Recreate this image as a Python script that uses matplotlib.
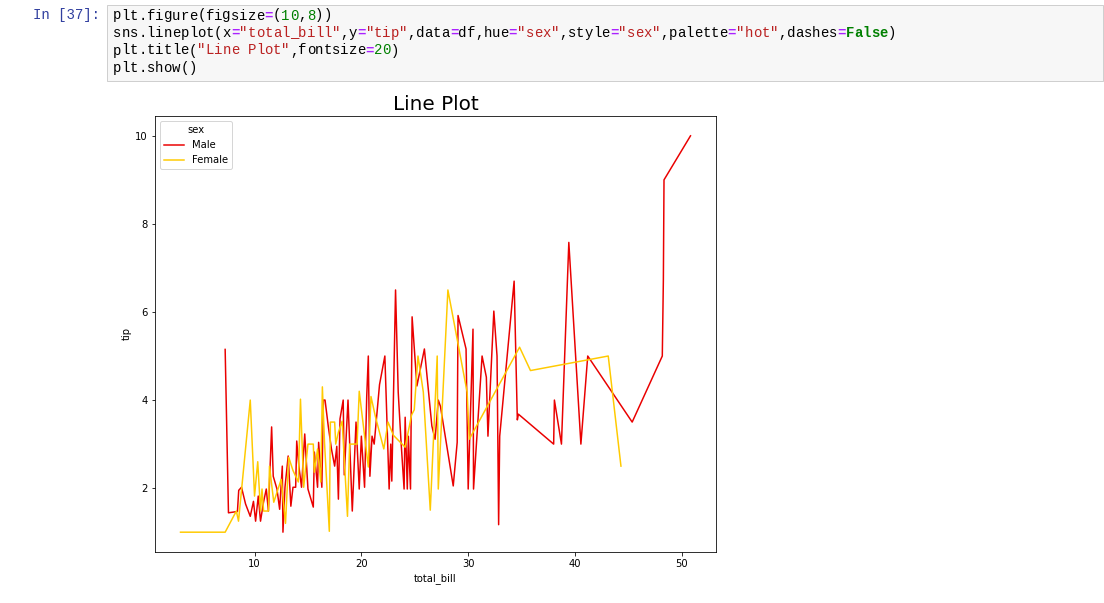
import matplotlib
matplotlib.use("Agg")
import matplotlib.pyplot as plt
from matplotlib.patches import Rectangle

# ---------------- data ----------------
male_bill = [7.25, 7.56, 8.40, 8.52, 8.78, 9.16, 9.60, 9.90, 10.10, 10.35, 10.56,
             10.84, 11.10, 11.30, 11.60, 11.75, 12.10, 12.35, 12.60, 12.66, 12.85,
             13.15, 13.40, 13.60, 13.85, 13.95, 14.15, 14.40, 14.70, 15.00, 15.50,
             15.60, 15.90, 16.00, 16.30, 16.45, 16.60, 16.90, 17.20, 17.50, 17.70,
             17.85, 18.00, 18.30, 18.40, 18.75, 19.15, 19.50, 19.80, 20.00, 20.30,
             20.50, 20.65, 20.80, 21.00, 21.20, 21.70, 22.20, 22.60, 22.75, 22.85,
             23.20, 23.45, 23.70, 24.00, 24.10, 24.30, 24.40, 24.60, 24.75, 25.20,
             25.90, 26.60, 26.90, 27.20, 27.40, 28.60, 28.97, 29.05, 29.80, 30.00,
             30.45, 30.50, 31.30, 31.70, 31.85, 32.40, 32.70, 32.85, 32.95, 34.30,
             34.60, 34.70, 38.00, 38.07, 38.73, 39.42, 40.55, 41.19, 45.35, 48.17,
             48.27, 48.33, 50.81]
male_tip = [5.15, 1.44, 1.47, 1.95, 2.02, 1.64, 1.36, 1.70, 1.25, 1.82, 1.25,
            1.68, 1.98, 1.48, 3.39, 2.27, 1.98, 1.52, 2.50, 1.00, 2.02,
            2.73, 1.59, 2.02, 2.02, 3.07, 2.50, 2.02, 3.23, 1.98, 1.57,
            2.82, 2.02, 3.04, 2.02, 4.00, 4.00, 3.41, 2.89, 2.50, 2.95,
            1.75, 3.57, 4.00, 2.30, 4.00, 1.48, 3.50, 1.98, 3.18, 2.02,
            4.07, 5.00, 2.27, 3.18, 3.00, 4.35, 5.00, 1.98, 3.00, 2.16,
            6.50, 4.18, 3.11, 1.98, 3.61, 1.98, 3.18, 1.98, 5.89, 4.32,
            5.16, 3.41, 3.11, 4.00, 3.86, 2.05, 3.04, 5.92, 5.16, 1.98,
            5.61, 1.98, 5.00, 4.52, 3.18, 6.02, 5.00, 1.17, 3.18, 6.70,
            3.55, 3.68, 3.00, 4.00, 3.00, 7.58, 3.00, 5.00, 3.50, 5.00,
            6.73, 9.00, 10.00]

female_bill = [3.07, 5.75, 7.25, 8.30, 8.50, 9.60, 10.00, 10.30, 10.56, 10.70,
               10.85, 11.30, 11.40, 11.80, 12.20, 12.50, 12.90, 13.20, 13.60,
               14.10, 14.30, 14.60, 15.00, 15.50, 15.60, 15.90, 16.20, 16.35,
               16.55, 17.00, 17.10, 17.50, 17.60, 17.85, 18.20, 18.70, 18.90,
               19.60, 19.80, 20.65, 20.90, 21.30, 22.10, 22.50, 23.00, 24.10,
               24.70, 24.95, 25.30, 25.80, 26.45, 27.10, 27.20, 28.10, 29.90,
               30.10, 34.81, 35.83, 43.11, 44.30]
female_tip = [1.00, 1.00, 1.00, 1.48, 1.25, 4.00, 1.82, 2.60, 1.48, 1.98,
              1.48, 1.48, 2.50, 1.68, 1.98, 2.20, 1.20, 2.70, 2.40,
              2.14, 4.02, 2.02, 3.00, 3.00, 2.36, 2.89, 2.14, 4.30,
              3.04, 1.02, 3.50, 3.50, 3.00, 3.27, 3.52, 1.36, 3.00,
              3.00, 4.20, 2.48, 4.08, 3.64, 2.89, 3.50, 3.20, 2.93,
              3.66, 3.78, 5.00, 4.18, 1.50, 5.00, 1.98, 6.50, 4.18,
              3.11, 5.20, 4.67, 5.00, 2.50]

series_labels = ["Male", "Female"]

code_lines = [
    [("plt.figure(figsize", "k"), ("=", "op"), ("(", "k"), ("10", "num"), (",", "k"),
     ("8", "num"), ("))", "k")],
    [("sns.lineplot(x", "k"), ("=", "op"), ('"total_bill"', "str"), (",y", "k"), ("=", "op"),
     ('"tip"', "str"), (",data", "k"), ("=", "op"), ("df,hue", "k"), ("=", "op"),
     ('"sex"', "str"), (",style", "k"), ("=", "op"), ('"sex"', "str"), (",palette", "k"),
     ("=", "op"), ('"hot"', "str"), (",dashes", "k"), ("=", "op"), ("False", "kw"), (")", "k")],
    [("plt.title(", "k"), ('"Line Plot"', "str"), (",fontsize", "k"), ("=", "op"),
     ("20", "num"), (")", "k")],
    [("plt.show()", "k")],
]

# ---------------- figure ----------------
W, H, DPI = 1104, 603, 72
fig = plt.figure(figsize=(W / DPI, H / DPI), dpi=DPI, facecolor="white")


def fx(px):
    return px / W


def fy(py):
    return 1 - py / H


# notebook code cell
fig.patches.append(Rectangle((fx(107), fy(81)), fx(1103) - fx(107), fy(5) - fy(81),
                             transform=fig.transFigure, facecolor="#f7f7f7",
                             edgecolor="#cfcfcf", lw=1))
mono = "Liberation Mono"
fig.text(fx(33), fy(19.5), "In [37]:", color="#303F9F", family=mono, fontsize=14,
         va="baseline", ha="left")
styles = {"k": ("#000000", "normal"), "op": ("#AA22FF", "bold"),
          "str": ("#BA2121", "normal"), "num": ("#008000", "normal"),
          "kw": ("#008000", "bold")}
char_w = 8.42
baselines = [19.5, 37.0, 54.5, 72.0]
for line, base in zip(code_lines, baselines):
    col = 0
    for tok, kind in line:
        c, wgt = styles[kind]
        for ch in tok:
            fig.text(fx(113 + col * char_w), fy(base), ch, color=c, family=mono,
                     fontsize=14, fontweight=wgt, va="baseline", ha="left")
            col += 1

# chart
ax = fig.add_axes([fx(155), fy(552), fx(716) - fx(155), fy(116) - fy(552)])
hot = matplotlib.colormaps["hot"]
c_male = hot(1 / 3)
c_female = hot(2 / 3)
ax.plot(male_bill, male_tip, color=c_male, lw=1.5, label=series_labels[0])
ax.plot(female_bill, female_tip, color=c_female, lw=1.5, label=series_labels[1])
ax.set_xlabel("total_bill", fontsize=10)
ax.set_ylabel("tip", fontsize=10)
ax.tick_params(labelsize=10)
ax.set_title("Line Plot", fontsize=20)
ax.legend(title="sex", loc="upper left", fontsize=10, title_fontsize=10)

fig.savefig("out.png", dpi=DPI, facecolor="white")
